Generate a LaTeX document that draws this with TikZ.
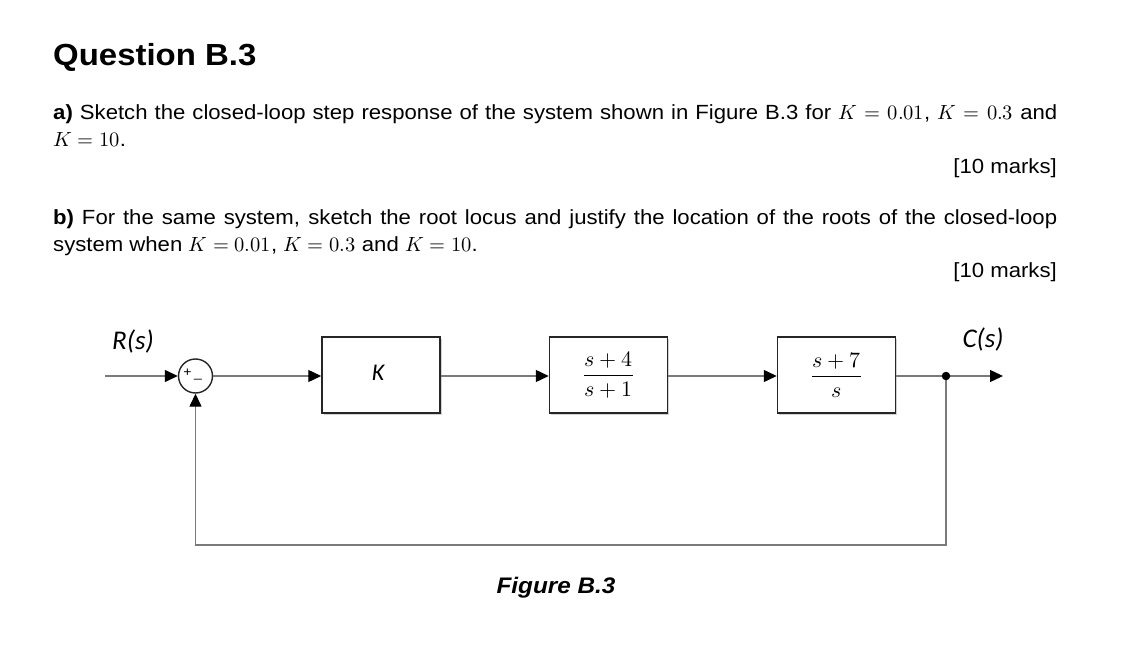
\documentclass[tikz,border=0pt]{standalone}
\usepackage{fontspec}
\usepackage{unicode-math}
\setmainfont{Liberation Sans}[FakeStretch=1.08]
\setmathfont{Latin Modern Math}
\newfontfamily\calib{Carlito}
\usetikzlibrary{arrows.meta,shadows}
\begin{document}
\begin{tikzpicture}[x=1pt,y=-1pt,
  wire/.style={draw=black!52,line width=1.4pt},
  arr/.style={wire,-{Triangle[length=13pt,width=12pt,fill=black,color=black]}},
  blk/.style={draw=black!85,line width=1.5pt,fill=white,minimum width=118pt,minimum height=76pt,inner sep=0pt,
     drop shadow={shadow xshift=1.8pt,shadow yshift=-1.8pt,opacity=0.35}},
  txt/.style={inner sep=0pt,anchor=base west},
  junct/.style={circle,fill=black,inner sep=0pt,minimum size=8.5pt}
]
\useasboundingbox (0,0) rectangle (1130,660);
\fill[white] (0,0) rectangle (1130,660);
% text
\node[inner sep=0pt,anchor=base west,font=\fontsize{30.5}{36}\selectfont\bfseries] (q) at (53,66) {Question B.3};
\node[txt] (a) at (53,120) {\parbox[t]{1004pt}{\fontsize{20.5}{27}\selectfont\textbf{a)} Sketch the closed-loop step response of the system shown in Figure B.3 for $K=0.01$, $K=0.3$ and\linebreak $K=10$.}};
\node[inner sep=0pt,anchor=base east,font=\fontsize{20.5}{27}\selectfont] (m1) at (1057,174) {[10 marks]};
\node[txt] (b) at (53,225) {\parbox[t]{1004pt}{\fontsize{20.5}{27}\selectfont\textbf{b)} For the same system, sketch the root locus and justify the location of the roots of the closed-loop\linebreak system when $K=0.01$, $K=0.3$ and $K=10$.}};
\node[inner sep=0pt,anchor=base east,font=\fontsize{20.5}{27}\selectfont] (m2) at (1057,278) {[10 marks]};
% diagram
\coordinate (in) at (105,376);
\node[circle,draw=black!85,line width=1.4pt,minimum size=34pt,inner sep=0pt,fill=white] (sum) at (195.5,376) {};
\node[inner sep=0pt,font=\fontsize{13}{13}\selectfont] (plus) at (187.5,373) {+};
\node[inner sep=0pt,font=\fontsize{13}{13}\selectfont] (minus) at (198,379) {\_};
\node[blk] (k) at (381,375) {};
\node[inner sep=0pt,font=\calib\itshape\fontsize{24}{24}\selectfont] (kl) at (378,373) {K};
\node[blk] (g1) at (608.5,375) {\fontsize{22}{26}\selectfont$\displaystyle\frac{s+4}{s+1}$};
\node[blk] (g2) at (836.5,375) {\fontsize{22}{26}\selectfont$\displaystyle\frac{s+7}{s}$};
\coordinate (br) at (946,376);
\coordinate (out) at (1003,376);
\coordinate (fb1) at (946,545);
\coordinate (fb2) at (195.5,545);
\draw[arr] (in) -- (sum.west);
\draw[arr] (sum.east) -- (k.west |- sum.east);
\draw[arr] (k.east |- sum.east) -- (g1.west |- sum.east);
\draw[arr] (g1.east |- sum.east) -- (g2.west |- sum.east);
\draw[wire] (g2.east |- sum.east) -- (br);
\draw[arr] (br) -- (out);
\draw[arr] (br) -- (fb1) -- (fb2) -- (sum.south);
\node[junct] (dot) at (br) {};
\node[inner sep=0pt,font=\calib\itshape\fontsize{27}{27}\selectfont] (r) at (133,341) {R(s)};
\node[inner sep=0pt,font=\calib\itshape\fontsize{27}{27}\selectfont] (c) at (983,339) {C(s)};
\node[inner sep=0pt,anchor=base,font=\fontsize{22.5}{26}\selectfont\bfseries\itshape] (fig) at (556,593) {Figure B.3};
\end{tikzpicture}
\end{document}
